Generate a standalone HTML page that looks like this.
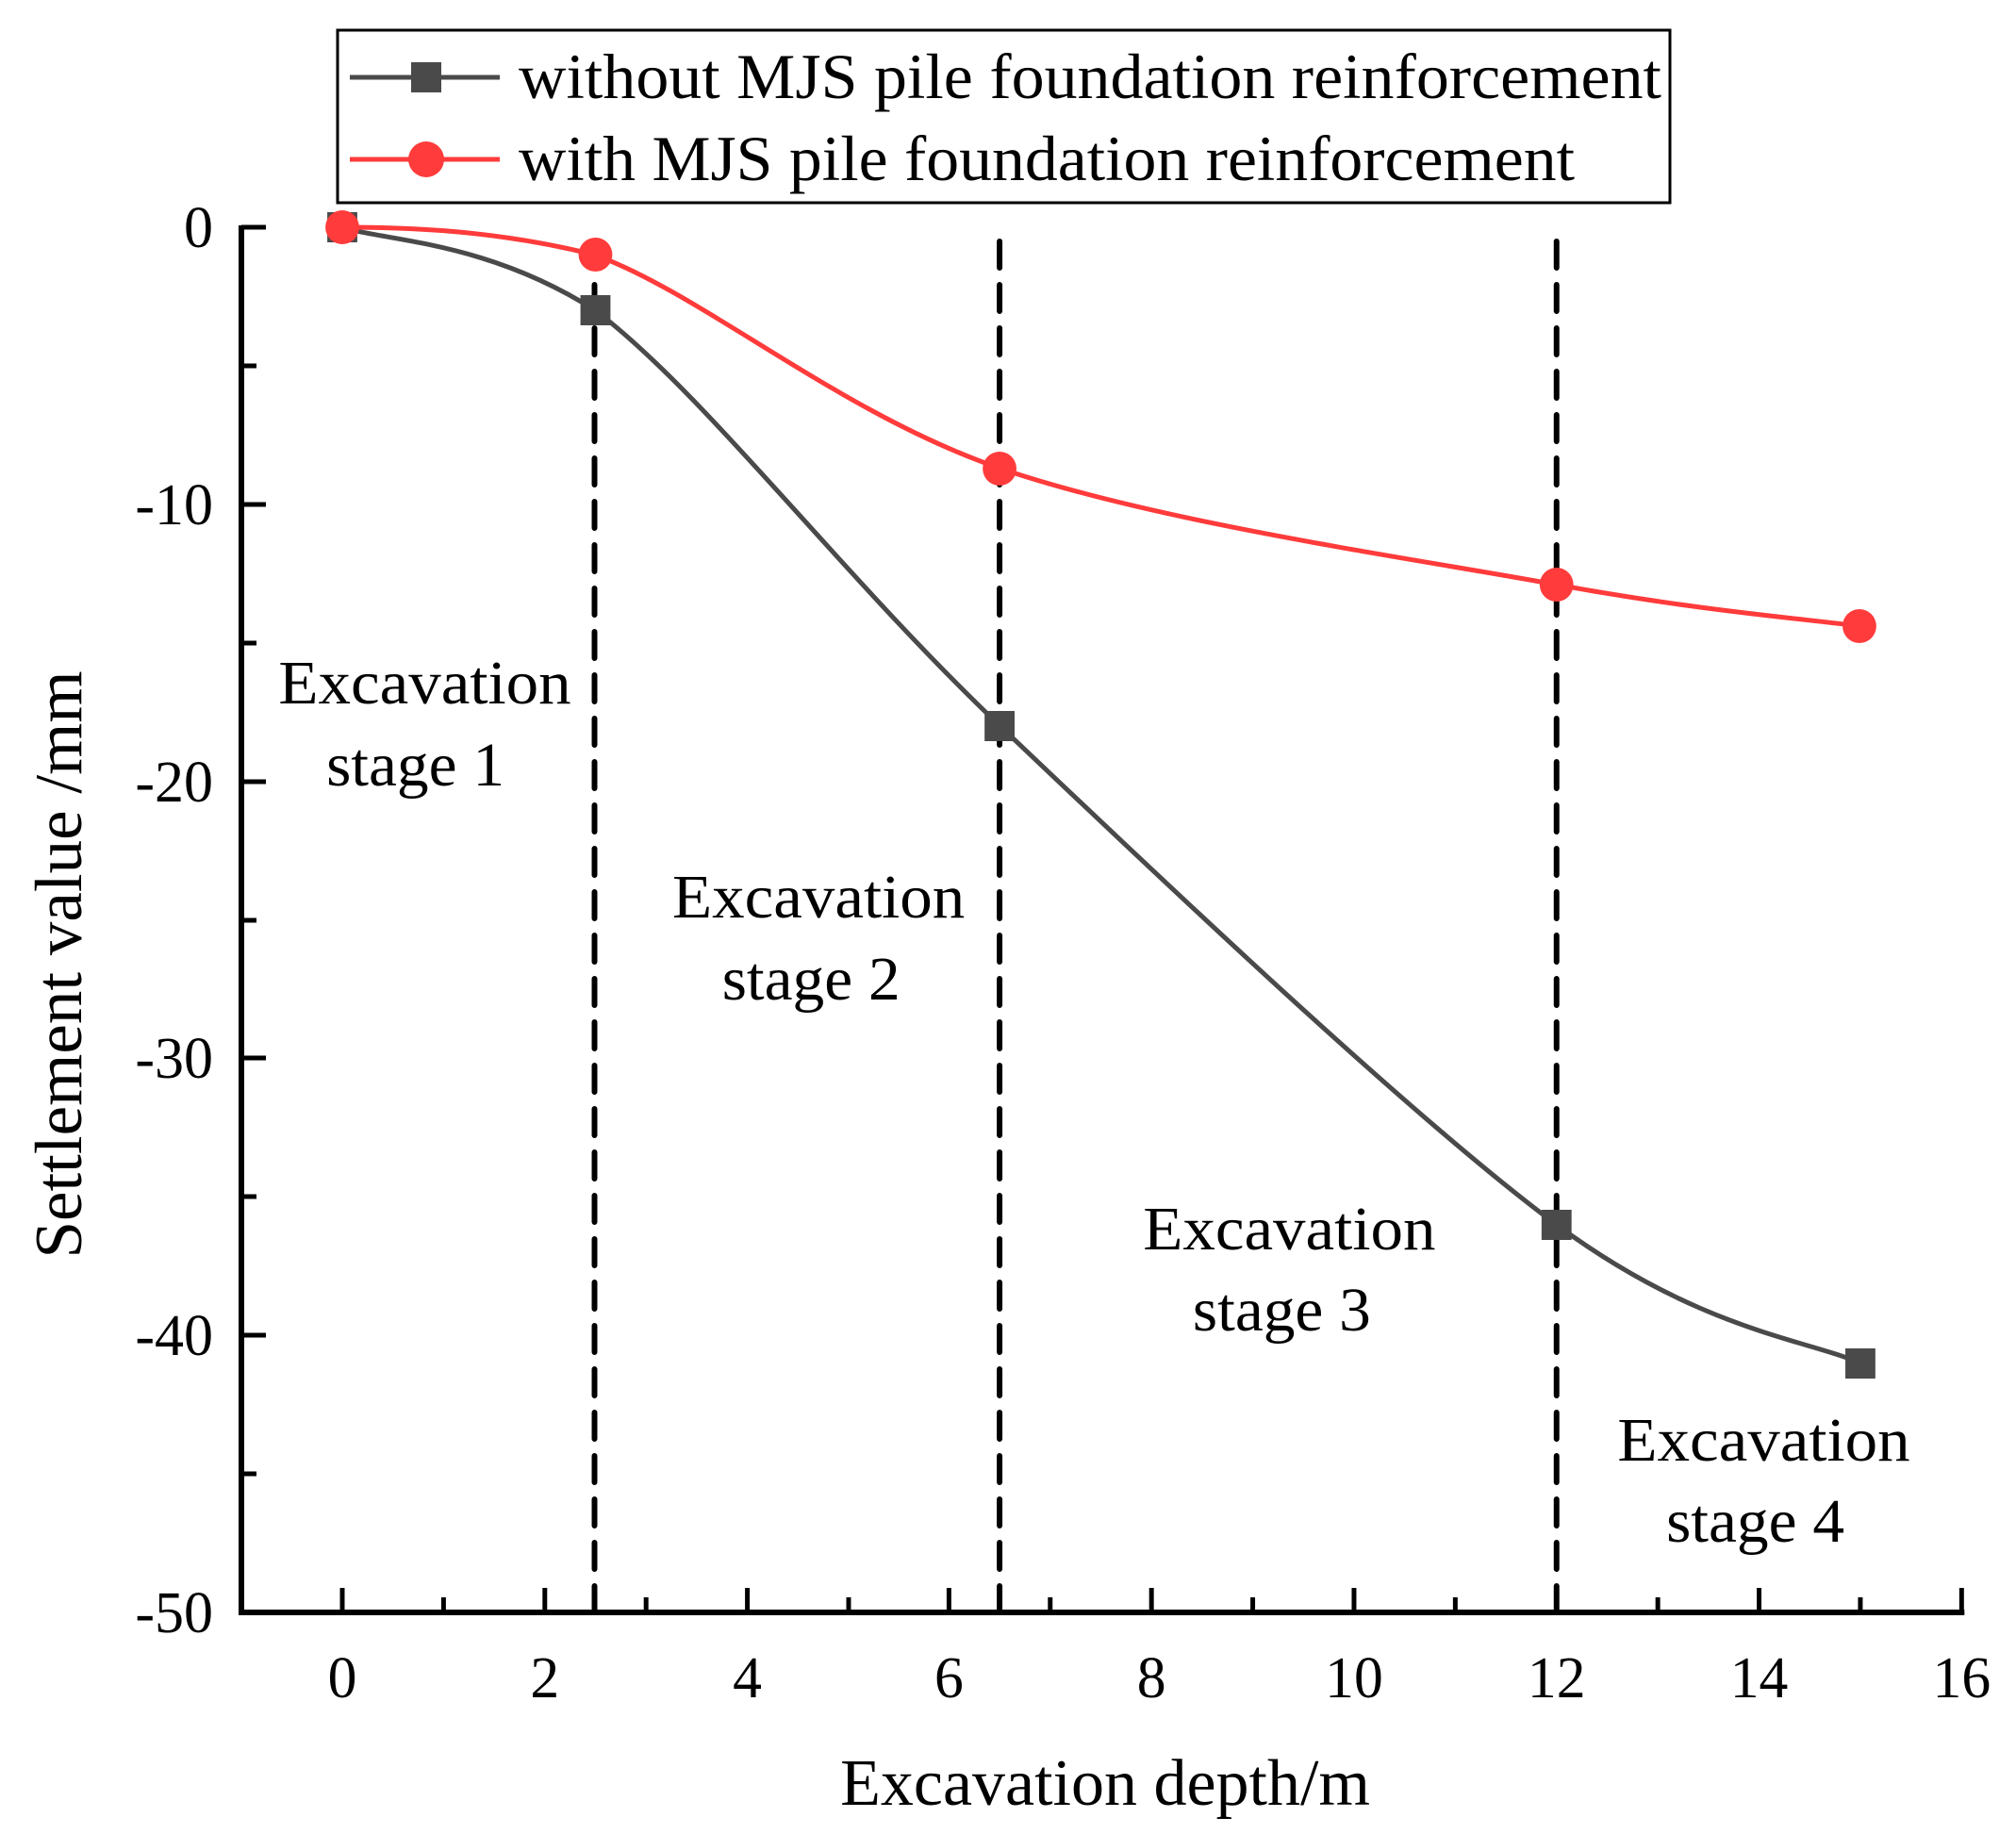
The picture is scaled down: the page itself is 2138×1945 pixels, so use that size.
<!DOCTYPE html>
<html><head><meta charset="utf-8"><style>html,body{margin:0;padding:0;background:#fff}svg{display:block}text{font-family:"Liberation Serif",serif;fill:#000}</style></head>
<body>
<svg width="2138" height="1945" viewBox="0 0 2138 1945" xmlns="http://www.w3.org/2000/svg">
<rect width="2138" height="1945" fill="#fff"/>
<!-- legend -->
<rect x="358" y="32" width="1413" height="183" fill="none" stroke="#000" stroke-width="3"/>
<line x1="371" y1="82" x2="530" y2="82" stroke="#4a4a4a" stroke-width="5"/>
<rect x="436" y="66" width="32" height="32" fill="#4a4a4a"/>
<text x="550" y="104" font-size="68" textLength="1212" lengthAdjust="spacingAndGlyphs">without MJS pile foundation reinforcement</text>
<line x1="371" y1="169" x2="530" y2="169" stroke="#ff3b3b" stroke-width="5"/>
<circle cx="452" cy="169" r="19" fill="#ff3b3b"/>
<text x="550" y="191" font-size="68" textLength="1120" lengthAdjust="spacingAndGlyphs">with MJS pile foundation reinforcement</text>
<!-- y axis -->
<line x1="256" y1="239" x2="256" y2="1713" stroke="#000" stroke-width="6"/>
<g stroke="#000" stroke-width="5">
<line x1="256" y1="241" x2="282" y2="241"/><line x1="256" y1="388" x2="272" y2="388"/>
<line x1="256" y1="535" x2="282" y2="535"/><line x1="256" y1="682" x2="272" y2="682"/>
<line x1="256" y1="829" x2="282" y2="829"/><line x1="256" y1="976" x2="272" y2="976"/>
<line x1="256" y1="1122" x2="282" y2="1122"/><line x1="256" y1="1269" x2="272" y2="1269"/>
<line x1="256" y1="1416" x2="282" y2="1416"/><line x1="256" y1="1563" x2="272" y2="1563"/>
</g>
<g font-size="62" text-anchor="end">
<text x="226" y="262">0</text><text x="226" y="556">-10</text><text x="226" y="850">-20</text>
<text x="226" y="1143">-30</text><text x="226" y="1437">-40</text><text x="226" y="1731">-50</text>
</g>
<text x="1172" y="1914" font-size="70" text-anchor="middle">Excavation depth/m</text>
<text transform="translate(86,1023) rotate(-90)" font-size="71" text-anchor="middle">Settlement value /mm</text>
<g transform="translate(363,0) scale(0.9944,1) translate(-363,0)">
<line x1="253" y1="1710" x2="2093" y2="1710" stroke="#000" stroke-width="6"/>
<g stroke="#000" stroke-width="5">
<line x1="363" y1="1710" x2="363" y2="1684"/><line x1="471" y1="1710" x2="471" y2="1694"/>
<line x1="579" y1="1710" x2="579" y2="1684"/><line x1="687" y1="1710" x2="687" y2="1694"/>
<line x1="795" y1="1710" x2="795" y2="1684"/><line x1="903" y1="1710" x2="903" y2="1694"/>
<line x1="1010" y1="1710" x2="1010" y2="1684"/><line x1="1118" y1="1710" x2="1118" y2="1694"/>
<line x1="1226" y1="1710" x2="1226" y2="1684"/><line x1="1334" y1="1710" x2="1334" y2="1694"/>
<line x1="1442" y1="1710" x2="1442" y2="1684"/><line x1="1550" y1="1710" x2="1550" y2="1694"/>
<line x1="1658" y1="1710" x2="1658" y2="1684"/><line x1="1766" y1="1710" x2="1766" y2="1694"/>
<line x1="1874" y1="1710" x2="1874" y2="1684"/><line x1="1982" y1="1710" x2="1982" y2="1694"/>
<line x1="2090" y1="1710" x2="2090" y2="1684"/>
</g>
<g font-size="62" text-anchor="middle">
<text x="363" y="1800">0</text><text x="579" y="1800">2</text><text x="795" y="1800">4</text>
<text x="1010" y="1800">6</text><text x="1226" y="1800">8</text><text x="1442" y="1800">10</text>
<text x="1658" y="1800">12</text><text x="1874" y="1800">14</text><text x="2090" y="1800">16</text>
</g>
<g stroke="#000" stroke-width="6" stroke-dasharray="28 18" stroke-linecap="round">
<line x1="632" y1="256" x2="632" y2="1708"/>
<line x1="1064" y1="256" x2="1064" y2="1708"/>
<line x1="1658" y1="256" x2="1658" y2="1708"/>
</g>
<path d="M363,241 C408,255.7 515.9,255 632.75,329.1 C749.6,417.2 893.6,608.2 1064.4,769.8 C1235.2,931.4 1504.9,1186.1 1657.8,1298.7 C1810.7,1411.3 1927.5,1421.1 1981.5,1445.6" fill="none" stroke="#4a4a4a" stroke-width="5"/>
<path d="M363,241 C408,241 515.9,241 632.75,270.4 C749.6,313 893.6,438.3 1064.4,496.6 C1235.2,554.9 1504.9,592.1 1657.8,620 C1810.7,647.9 1927.5,656.7 1981.5,664.1" fill="none" stroke="#ff3b3b" stroke-width="5"/>
<g fill="#4a4a4a">
<rect x="347" y="225" width="32" height="32"/><rect x="617" y="313" width="32" height="32"/>
<rect x="1048" y="754" width="32" height="32"/><rect x="1642" y="1283" width="32" height="32"/>
<rect x="1966" y="1430" width="32" height="32"/>
</g>
<g fill="#ff3b3b">
<circle cx="363" cy="241" r="18"/><circle cx="633" cy="270" r="18"/><circle cx="1064" cy="497" r="18"/>
<circle cx="1658" cy="620" r="18"/><circle cx="1981" cy="664" r="18"/>
</g>
<g font-size="66" text-anchor="middle">
<text x="451" y="746" textLength="312" lengthAdjust="spacingAndGlyphs">Excavation</text><text x="441" y="833" textLength="190" lengthAdjust="spacingAndGlyphs">stage 1</text>
<text x="871" y="973" textLength="312" lengthAdjust="spacingAndGlyphs">Excavation</text><text x="863" y="1060" textLength="190" lengthAdjust="spacingAndGlyphs">stage 2</text>
<text x="1373" y="1325" textLength="312" lengthAdjust="spacingAndGlyphs">Excavation</text><text x="1365" y="1411" textLength="190" lengthAdjust="spacingAndGlyphs">stage 3</text>
<text x="1879" y="1549" textLength="312" lengthAdjust="spacingAndGlyphs">Excavation</text><text x="1870" y="1635" textLength="190" lengthAdjust="spacingAndGlyphs">stage 4</text>
</g>
</g>
</svg>
</body></html>
